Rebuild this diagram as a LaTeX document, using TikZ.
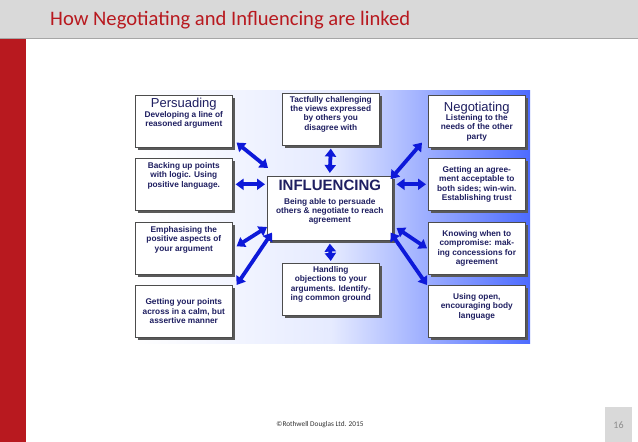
\documentclass[tikz,border=0pt]{standalone}
\usepackage{fontspec}
\setmainfont{Carlito}
\newfontfamily\bx{Liberation Sans}
\usetikzlibrary{arrows.meta,calc,shadows}
\definecolor{navy}{rgb}{0.12,0.12,0.38}
\definecolor{arr}{rgb}{0.05,0.1,0.85}
\definecolor{slred}{rgb}{0.72,0.1,0.12}
\begin{document}
\begin{tikzpicture}[x=1pt,y=-1pt,
 box/.style={draw=black!70,line width=0.6pt,fill=white,minimum width=97pt,minimum height=52pt,anchor=north west,
   align=center,font=\bx\bfseries\fontsize{8.3}{9.4}\selectfont,text=navy,inner sep=2pt,
   drop shadow={shadow xshift=3pt,shadow yshift=-3pt,fill=black!65,opacity=1}},
 bi/.style={draw=arr,line width=3.8pt,{Triangle[width=11pt,length=8pt]}-{Triangle[width=11pt,length=8pt]}}]
\useasboundingbox (0,0) rectangle (638,442);
\fill[white] (0,0) rectangle (638,442);
\fill[black!15] (0,0) rectangle (638,38);
\draw[black!35,line width=0.8pt] (0,38.5) -- (638,38.5);
\fill[slred] (0,39) rectangle (26,442);
\node[anchor=west,text=slred,font=\fontsize{20.6}{22}\selectfont,inner sep=0] (title) at (50,20) {How Negotiating and Influencing are linked};
\fill[black!15] (605,407) rectangle (632,442);
\node[text=black!45,font=\fontsize{10}{11}\selectfont] (pg) at (618.5,425) {16};
\node[text=black!80,font=\fontsize{7.3}{8}\selectfont] (ft) at (320,425) {©Rothwell Douglas Ltd. 2015};
\shade[left color=white,right color={rgb,1:red,0.3;green,0.42;blue,1},middle color={rgb,1:red,0.9;green,0.92;blue,1}] (133,90) rectangle (530,343);
\node[box] (l1) at (135,95) {{\mdseries\fontsize{13}{13}\selectfont Persuading}\\Developing a line of\\reasoned argument\\[8pt]};
\node[box] (l2) at (135,158) {Backing up points\\with logic. Using\\positive language.\\[10pt]};
\node[box] (l3) at (135,222) {Emphasising the\\positive aspects of\\your argument\\[10pt]};
\node[box] (l4) at (135,285) {Getting your points\\across in a calm, but\\assertive manner};
\node[box] (r1) at (428,95) {{\mdseries\fontsize{13}{13}\selectfont Negotiating}\\Listening to the\\needs of the other\\party};
\node[box] (r2) at (428,158) {Getting an agree-\\ment acceptable to\\both sides; win-win.\\Establishing trust};
\node[box] (r3) at (428,222) {Knowing when to\\compromise: mak-\\ing concessions for\\agreement};
\node[box] (r4) at (428,285) {Using open,\\encouraging body\\language\\[2pt]};
\node[box] (t) at (282,93) {Tactfully challenging\\the views expressed\\by others you\\disagree with\\[3pt]};
\node[box] (b) at (282,263) {Handling\\objections to your\\arguments. Identify-\\ing common ground\\[2pt]};
\node[box,minimum width=125pt,minimum height=64pt] (inf) at (267,176) {{\fontsize{15}{16}\selectfont INFLUENCING}\\[4pt]Being able to persuade\\others \& negotiate to reach\\agreement\\[4pt]};
\draw[bi] ([shift={(4pt,5pt)}]l1.south east) -- ([shift={(1pt,8pt)}]inf.north west);
\draw[bi] ([xshift=3pt]l2.east) -- ([xshift=-2pt]l2.east -| inf.west);
\draw[bi] ([shift={(4pt,2pt)}]l3.east) -- ([shift={(0pt,-51pt)}]inf.north west);
\draw[bi] ([xshift=4pt]l4.north east) -- ([shift={(5pt,8pt)}]inf.south west);
\draw[bi] ([yshift=-3pt]t.south) -- ([yshift=3pt]inf.north);
\draw[bi] ([yshift=-3pt]inf.south) -- ([yshift=2pt]b.north);
\draw[bi] ([shift={(-6pt,5pt)}]r1.south west) -- ([shift={(-2pt,-3pt)}]inf.north east);
\draw[bi] ([xshift=-2pt]r2.west) -- ([xshift=4pt]r2.west -| inf.east);
\draw[bi] ([shift={(4pt,-52pt)}]inf.north east) -- ([xshift=-1pt]r3.west);
\draw[bi] ([shift={(-2pt,8pt)}]inf.south east) -- ([xshift=-1pt]r4.north west);
\end{tikzpicture}
\end{document}
